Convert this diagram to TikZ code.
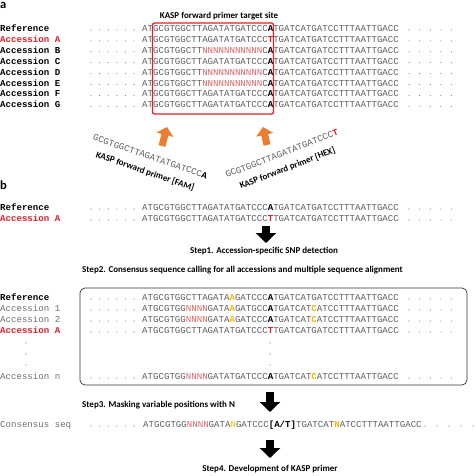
\documentclass[tikz,border=0pt]{standalone}
\usepackage{fontspec}
\setmainfont{Carlito}
\newfontfamily\seqfont{Liberation Mono}
\usetikzlibrary{arrows.meta,positioning}
\definecolor{seqgray}{RGB}{95,95,95}
\definecolor{labelgray}{RGB}{110,110,110}
\definecolor{dotgray}{RGB}{120,120,120}
\definecolor{accred}{RGB}{226,30,38}
\definecolor{nred}{RGB}{226,100,100}
\definecolor{snpyellow}{RGB}{245,185,0}
\definecolor{kasporange}{RGB}{237,125,49}
\newcommand{\rN}[1]{\textcolor{nred}{#1}}
\newcommand{\yl}[1]{\textcolor{snpyellow}{\bfseries #1}}
\newcommand{\snp}[1]{\textcolor{black}{\bfseries #1}}
\newcommand{\snpT}{\textcolor{accred}{\bfseries T}}
\newcommand{\tailseq}{TGATCATGATCCTTTAATTGACC}
\newcommand{\refseq}{ATGCGTGGCTTAGATATGATCCC}
\newcommand{\nseq}{ATGCGTGGCTT\rN{NNNNNNNNNNN}C}

\begin{document}
\begin{tikzpicture}[
  x=1pt, y=-1pt,
  seq/.style={anchor=west, inner sep=0pt, text height=5.2pt, text depth=0pt, font=\seqfont\fontsize{9.1}{10}\selectfont, text=seqgray},
  acc/.style={seq, font=\seqfont\bfseries\fontsize{9.1}{10}\selectfont, text=black},
  accA/.style={acc, text=accred},
  accplain/.style={seq, text=labelgray},
  steptext/.style={font=\bfseries\fontsize{9}{10}\selectfont, inner sep=0pt, text height=5.8pt, text depth=0pt},
  panel/.style={anchor=base west, inner sep=0pt, font=\bfseries\fontsize{12.5}{12.5}\selectfont},
  blockarr/.style={line width=8pt, -{Triangle[length=10pt, width=20pt]}},
  fwdarr/.style={kasporange, line width=7pt, -{Triangle[length=8pt, width=17pt]}},
]
  \useasboundingbox (0,0) rectangle (474,476);

  % a
  \node[panel] (pa) at (0,9) {a};

  \node[acc]  (refa)  at (0,29)   {Reference};
  \node[accA] (acca)  at (0,39.9) {Accession A};
  \node[acc]  (accb)  at (0,50.8) {Accession B};
  \node[acc]  (accc)  at (0,61.7) {Accession C};
  \node[acc]  (accd)  at (0,72.6) {Accession D};
  \node[acc]  (acce)  at (0,83.5) {Accession E};
  \node[acc]  (accf)  at (0,94.4) {Accession F};
  \node[acc]  (accg)  at (0,105.3) {Accession G};

  \node[seq] (refaseq) at (142,29)    {\refseq\snp{A}\tailseq};
  \node[seq] (accaseq) at (142,39.9)  {\refseq\snpT\tailseq};
  \node[seq] (accbseq) at (142,50.8)  {\nseq\snp{A}\tailseq};
  \node[seq] (acccseq) at (142,61.7)  {\refseq\snp{A}\tailseq};
  \node[seq] (accdseq) at (142,72.6)  {\nseq\snp{A}\tailseq};
  \node[seq] (acceseq) at (142,83.5)  {\nseq\snp{A}\tailseq};
  \node[seq] (accfseq) at (142,94.4)  {\refseq\snp{A}\tailseq};
  \node[seq] (accgseq) at (142,105.3) {\refseq\snp{A}\tailseq};

  \node[draw=accred, line width=1.3pt, rounded corners=2pt, minimum width=121pt, minimum height=91pt, inner sep=0pt] (target) at (213,68.5) {};
  \node[steptext, above=4pt of target, xshift=6pt] (targettitle) {KASP forward primer target site};

  % primers
  \begin{scope}[shift={(150,157)}, rotate=-19, transform shape]
    \node[seq, anchor=center] (famseq) at (0,0) {GCGTGGCTTAGATATGATCCC\snp{A}};
    \node[steptext, anchor=center] (famlbl) at (0,15) {KASP forward primer [FAM]};
  \end{scope}
  \begin{scope}[shift={(282,154)}, rotate=21, transform shape]
    \node[seq, anchor=center] (hexseq) at (0,0) {GCGTGGCTTAGATATGATCCC\snpT};
    \node[steptext, anchor=center] (hexlbl) at (0,15) {KASP forward primer [HEX]};
  \end{scope}

  \coordinate (famtail) at (162,146);
  \coordinate (famtip)  at (167,127);
  \coordinate (hextail) at (267,145);
  \coordinate (hextip)  at (263,127);
  \draw[fwdarr] (famtail) -- (famtip);
  \draw[fwdarr] (hextail) -- (hextip);

  % b
  \node[panel] (pb) at (0,189) {b};

  \node[acc]  (refb)  at (0,208) {Reference};
  \node[accA] (accab) at (0,219) {Accession A};
  \node[seq] (refbseq)  at (142,208) {\refseq\snp{A}\tailseq};
  \node[seq] (accabseq) at (142,219) {\refseq\snpT\tailseq};

  \coordinate (a1top) at (266,226);
  \coordinate (a1bot) at (266,243);
  \draw[blockarr] (a1top) -- (a1bot);
  \node[steptext, below=4pt of a1bot, xshift=-2pt] (step1) {Step1. Accession-specific SNP detection};

  \node[steptext, anchor=west] (step2) at (82,270) {Step2. Consensus sequence calling for all accessions and multiple sequence alignment};

  \node[draw=black!80, line width=0.7pt, rounded corners=5pt, minimum width=387pt, minimum height=97pt, inner sep=0pt] (msa) at (273.5,336.5) {};

  \node[acc]      (refm)  at (0,298) {Reference};
  \node[accplain] (acc1)  at (0,309) {Accession 1};
  \node[accplain] (acc2)  at (0,320) {Accession 2};
  \node[accA]     (accam) at (0,331) {Accession A};
  \node[accplain] (accn)  at (0,377) {Accession n};

  \node[seq] (refmseq)  at (142,298) {ATGCGTGGCTTAGATA\yl{A}GATCCC\snp{A}\tailseq};
  \node[seq] (acc1seq)  at (142,309) {ATGCGTGG\rN{NNNN}GATA\yl{A}GATGCC\snp{A}TGATCAT\yl{C}ATCCTTTAATTGACC};
  \node[seq] (acc2seq)  at (142,320) {ATGCGTGG\rN{NNNN}GATA\yl{A}GATCCC\snp{A}TGATCAT\yl{C}ATCCTTTAATTGACC};
  \node[seq] (accamseq) at (142,331) {\refseq\snpT\tailseq};
  \node[seq] (accnseq)  at (142,377) {ATGCGTGG\rN{NNNN}GATATGATCCC\snp{A}TGATCAT\yl{C}ATCCTTTAATTGACC};

  \foreach \y in {343,354,365} {
    \fill[dotgray] (26,\y) circle (0.6pt);
    \fill[dotgray] (270,\y) circle (0.6pt);
  }

  \coordinate (a2top) at (270,392);
  \coordinate (a2bot) at (270,412);
  \draw[blockarr] (a2top) -- (a2bot);
  \node[steptext, anchor=west] (step3) at (82,405) {Step3. Masking variable positions with N};

  \node[accplain] (cons) at (0,425) {Consensus seq};
  \node[seq] (consseq) at (143,425) {ATGCGTGG\rN{NNNN}GATA\textcolor{snpyellow}{N}GATCCC\snp{[A/T]}TGATCAT\yl{N}ATCCTTTAATTGACC};

  \coordinate (a3top) at (270,440);
  \coordinate (a3bot) at (270,458);
  \draw[blockarr] (a3top) -- (a3bot);
  \node[steptext, below=7pt of a3bot] (step4) {Step4. Development of KASP primer};

  % leading and trailing dots
  \foreach \y in {29,39.9,50.8,61.7,72.6,83.5,94.4,105.3,208,219,298,309,320,331,377,425} {
    \foreach \i in {0,...,5} \fill[dotgray] ({91+8.6*\i},\y+1) circle (0.55pt);
  }
  \foreach \y in {29,39.9,50.8,61.7,72.6,83.5,94.4,105.3,208,219,298,309,320,331,377} {
    \foreach \i in {0,...,4} \fill[dotgray] ({409+10.6*\i},\y+1) circle (0.55pt);
  }
  \foreach \i in {0,...,4} \fill[dotgray] ({425+12*\i},426) circle (0.55pt);
\end{tikzpicture}
\end{document}
